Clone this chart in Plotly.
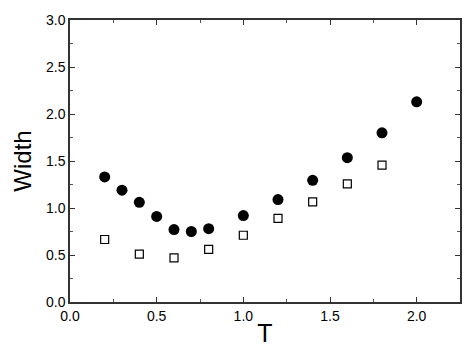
import plotly.graph_objects as go

T_filled = [0.2, 0.3, 0.4, 0.5, 0.6, 0.7, 0.8, 1.0, 1.2, 1.4, 1.6, 1.8, 2.0]
W_filled = [1.33, 1.19, 1.06, 0.91, 0.77, 0.75, 0.78, 0.92, 1.09, 1.295, 1.535, 1.80, 2.13]
T_open = [0.2, 0.4, 0.6, 0.8, 1.0, 1.2, 1.4, 1.6, 1.8]
W_open = [0.665, 0.51, 0.47, 0.56, 0.71, 0.89, 1.065, 1.257, 1.456]
x_ticks = [0.0, 0.5, 1.0, 1.5, 2.0]
y_ticks = [0.0, 0.5, 1.0, 1.5, 2.0, 2.5, 3.0]

fig = go.Figure()
fig.add_trace(go.Scatter(x=T_filled, y=W_filled, mode="markers",
                         marker=dict(symbol="circle", size=11, color="black"),
                         showlegend=False))
fig.add_trace(go.Scatter(x=T_open, y=W_open, mode="markers",
                         marker=dict(symbol="square-open", size=8, color="black",
                                     line=dict(width=1.2)),
                         showlegend=False))

axis_common = dict(showgrid=False, zeroline=False, showline=True, linecolor="#333",
                   linewidth=1.5, mirror="ticks", ticks="inside", ticklen=5,
                   tickcolor="#333", tickfont=dict(family="Liberation Sans, Arial", size=14, color="black"),
                   minor=dict(ticks="inside", ticklen=3, tickcolor="#555", dtick=0.25))
fig.update_xaxes(range=[0, 2.25], tickvals=x_ticks, ticktext=[f"{v:.1f}" for v in x_ticks],
                 title=dict(text="T", font=dict(family="Liberation Sans, Arial", size=25, color="black"),
                            standoff=2), **axis_common)
fig.update_yaxes(range=[0, 3.0], tickvals=y_ticks, ticktext=[f"{v:.1f}" for v in y_ticks],
                 title=dict(text="Width", font=dict(family="Liberation Sans, Arial", size=24, color="black"),
                            standoff=8), **axis_common)
fig.update_layout(width=474, height=355, margin=dict(l=70, r=12, t=15, b=48),
                  plot_bgcolor="white", paper_bgcolor="white")
fig.write_html("out.html")
